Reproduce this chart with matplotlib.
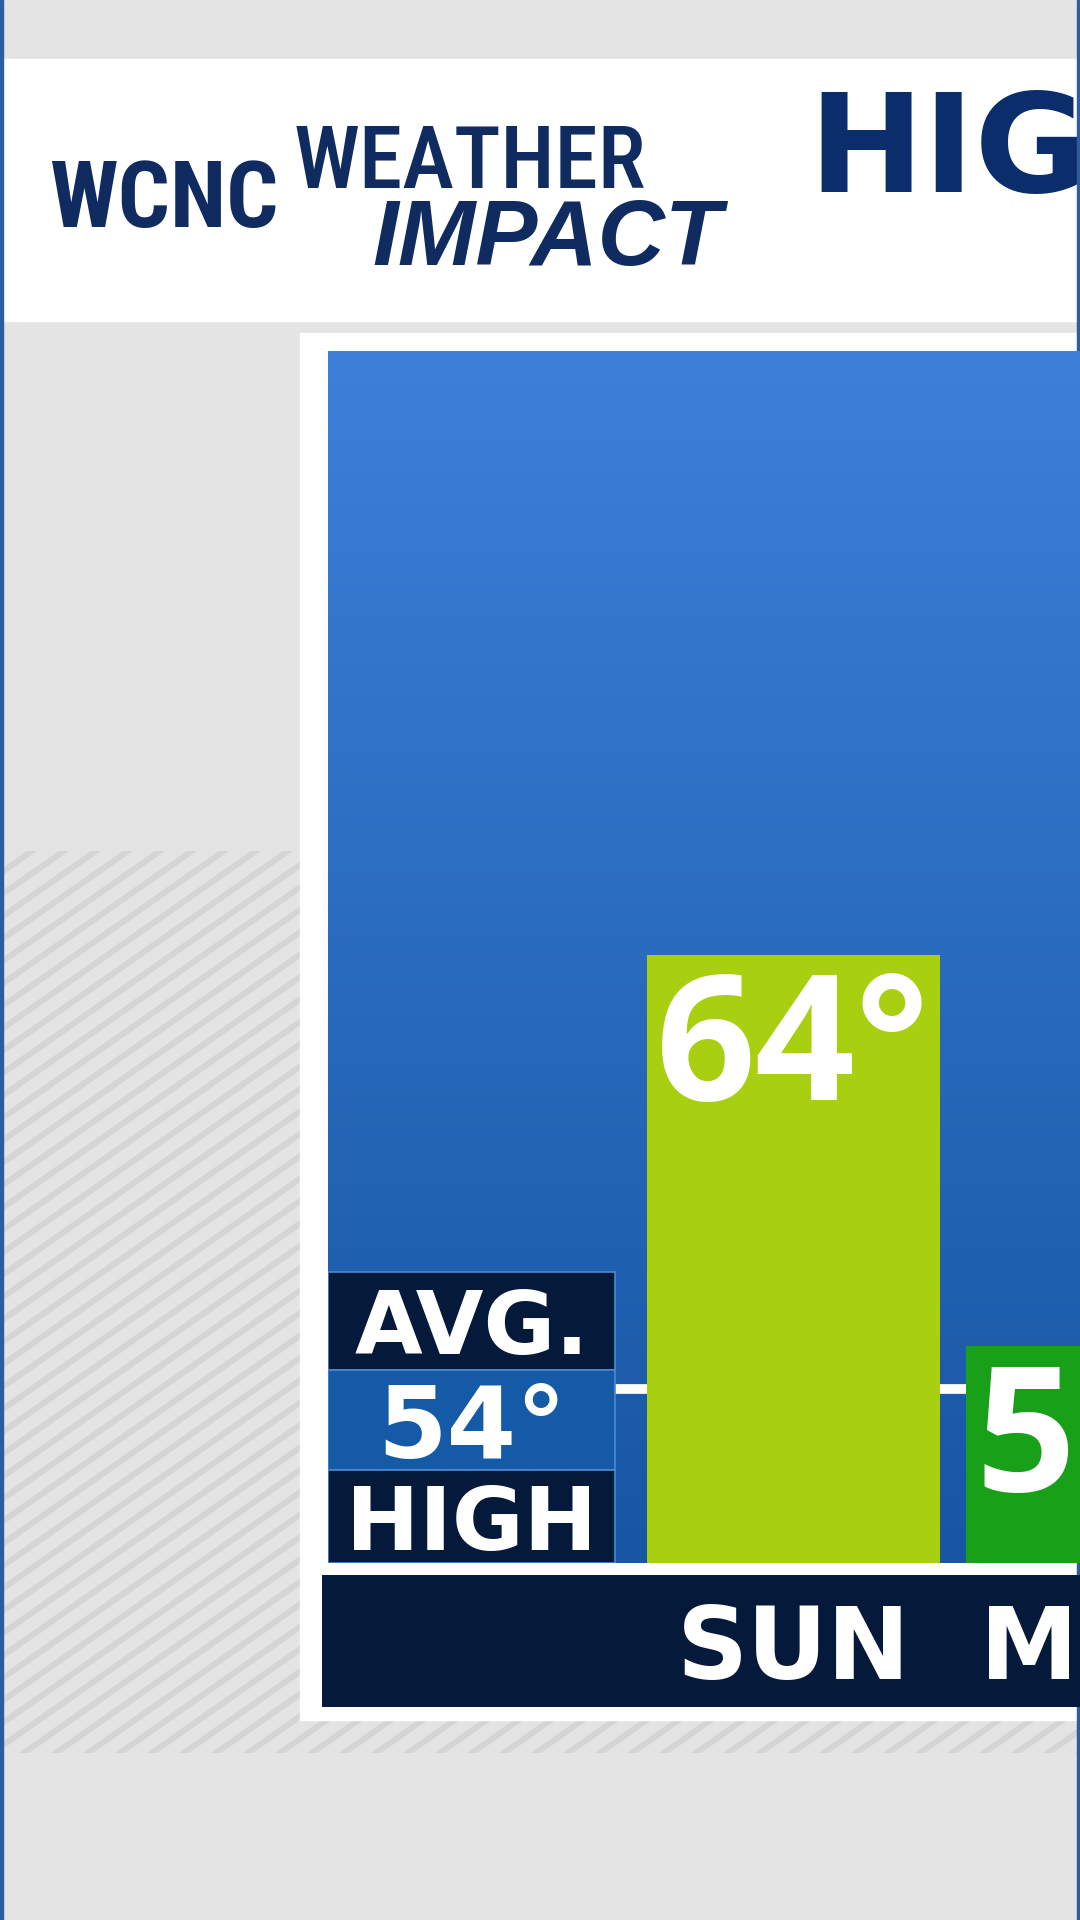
"""
Forecast highs vs. average high, WCNC weather impact style (cropped frame)
"""
import numpy as np
import matplotlib
matplotlib.use("Agg")
import matplotlib.pyplot as plt
from matplotlib.patches import Rectangle
from matplotlib.colors import LinearSegmentedColormap

plt.rcParams['font.family'] = ['DejaVu Sans']

# data
days = ["SUN", "MON"]
highs = [64, 55]
bar_colors = ["#a8d010", "#19a019"]
avg_high = 54
avg_labels = ["AVG.", f"{avg_high}°", "HIGH"]
base_temp = 50
title = "HIGHS"

W, H = 1080, 1920
NAVY = "#051a3b"

fig = plt.figure(figsize=(W / 100, H / 100), dpi=100)

# background canvas in pixel coords (y down)
bg = fig.add_axes([0, 0, 1, 1])
bg.set_xlim(0, W)
bg.set_ylim(H, 0)
bg.axis('off')

bg.add_patch(Rectangle((0, 0), W, H, color="#e4e4e4", zorder=0))

# diagonal stripes
hatch_box = Rectangle((0, 851), W, 902, facecolor="none", edgecolor="none")
bg.add_patch(hatch_box)
slope = np.tan(np.radians(35))
xs = np.array([0, W])
for c in np.arange(851, 1753 + W * slope + 30, 32 * slope):
    ln, = bg.plot(xs, c - xs * slope, color="#d5d5d5", lw=4.3, zorder=1,
                  solid_capstyle='butt')
    ln.set_clip_path(hatch_box)

# header + white panel
bg.add_patch(Rectangle((0, 59), W, 262, color="white", zorder=2))
bg.add_patch(Rectangle((300, 333), W - 300, 1387, color="white", zorder=2))

# frame lines left / right
bg.add_patch(Rectangle((0, 0), 3, H, color="#2c5d9e", zorder=5))
bg.add_patch(Rectangle((W - 3, 0), 3, H, color="#2c5d9e", zorder=5))

# logo + title
logo_col = "#0f2b60"
narrow = ['Roboto Condensed', 'Roboto', 'DejaVu Sans']
bg.text(279, 227, "WCNC", ha='right', va='baseline', fontsize=66,
        fontweight='bold', family=narrow, color=logo_col, zorder=3)
bg.text(294, 188, "WEATHER", ha='left', va='baseline', fontsize=63,
        fontweight='medium', family=narrow, color=logo_col, zorder=3)
bg.text(372, 265, "IMPACT", ha='left', va='baseline', fontsize=67,
        fontweight='bold', fontstyle='italic',
        family=['Liberation Sans', 'DejaVu Sans'], color=logo_col, zorder=3)
bg.text(808, 192, title, ha='left', va='baseline', fontsize=99,
        fontweight='bold', color="#0c2d6b", zorder=3)


def px_axes(x0, y0, x1, y1):
    return fig.add_axes([x0 / W, 1 - y1 / H, (x1 - x0) / W, (y1 - y0) / H])


# bar geometry in pixels
pitch = 319.0
x_center0 = 793.5
px_per_deg = 43.43

ax = px_axes(328, 351, W, 1563)
xlim = ((328 - x_center0) / pitch, (W - x_center0) / pitch)
ylim = (base_temp, base_temp + (1563 - 351) / px_per_deg)
ax.set_xlim(xlim)
ax.set_ylim(ylim)
ax.axis('off')

grad = LinearSegmentedColormap.from_list("sky", ["#3c80d9", "#1756a3"])
ax.imshow(np.linspace(0, 1, 256).reshape(-1, 1), cmap=grad, aspect='auto',
          extent=[xlim[0], xlim[1], ylim[0], ylim[1]], origin='upper', zorder=0)

ax.axhline(avg_high, color="white", lw=7, zorder=1)

xpos = np.arange(len(days))
ax.bar(xpos, np.array(highs) - base_temp, bottom=base_temp, width=0.918,
       color=bar_colors, zorder=2)
for x, v in zip(xpos, highs):
    ax.annotate(f"{v}°", (x, v), xytext=(0, -9), textcoords='offset points',
                ha='center', va='top', fontsize=126, fontweight='bold',
                family=['Open Sans', 'DejaVu Sans'], color="white", zorder=3,
                annotation_clip=False)

# average high box
box_w = 0.3816
sections = [(0.1592, 0.0809, NAVY, 63), (0.0767, 0.0825, "#155aa6", 72),
            (0.0, 0.0767, NAVY, 63)]
for (y0, h, col, fs), lab in zip(sections, avg_labels):
    ax.add_patch(Rectangle((0, y0), box_w, h, transform=ax.transAxes,
                           facecolor=col, edgecolor="#4a8ad2", lw=1.2, zorder=4))
    ax.text(box_w / 2, y0 + h / 2, lab, transform=ax.transAxes, ha='center',
            va='center_baseline', fontsize=fs, fontweight='bold',
            color="white", zorder=5)

# day strip
axl = px_axes(322, 1575, W, 1707)
axl.set_xlim((322 - x_center0) / pitch, (W - x_center0) / pitch)
axl.set_ylim(0, 1)
axl.set_facecolor(NAVY)
axl.set_xticks([])
axl.set_yticks([])
for s in axl.spines.values():
    s.set_visible(False)
for x, d in zip(xpos, days):
    axl.text(x, 0.5, d, ha='center', va='center_baseline', fontsize=71,
             fontweight='bold', color="white")

fig.savefig("out.png", dpi=100)
plt.close()
